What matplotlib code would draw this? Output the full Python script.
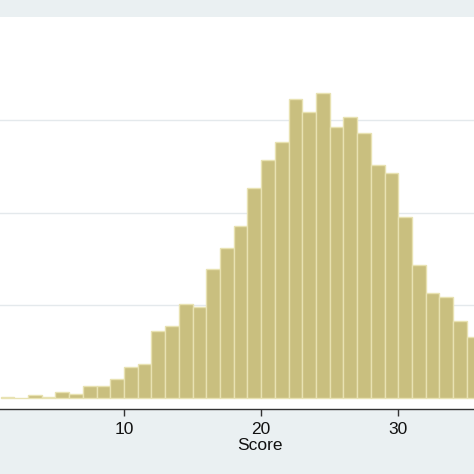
import numpy as np
import matplotlib
matplotlib.use("Agg")
import matplotlib.pyplot as plt

# histogram of scores, unit-width bins starting at each integer (density)
bin_left = list(range(1, 36))
density = [0.0002, 0.0, 0.00065, 0.0002, 0.0013, 0.001, 0.0026, 0.0026, 0.0041,
           0.0068, 0.0073, 0.0146, 0.0155, 0.0203, 0.0197, 0.0278, 0.0323,
           0.0372, 0.0453, 0.0513, 0.0552, 0.0645, 0.0617, 0.0659, 0.0585,
           0.0607, 0.0571, 0.0503, 0.0485, 0.0390, 0.0288, 0.0227, 0.0218,
           0.0167, 0.0133]
x_ticks = [10, 20, 30]
y_grid = [0.02, 0.04, 0.06]

plt.rcParams["font.family"] = ["Liberation Sans", "DejaVu Sans"]

fig = plt.figure(figsize=(4.74, 4.74), dpi=100)
fig.patch.set_facecolor("#eaf0f2")
ax = fig.add_axes([0, 65 / 474, 1, 392 / 474])
ax.set_facecolor("white")

ax.bar(bin_left, density, width=1.0, align="edge",
       color="#c9bf7f", edgecolor="#e8e2b2", linewidth=1.0, zorder=2)

for g in y_grid:
    ax.axhline(g, color="#e4e9ec", linewidth=1.0, zorder=1)

ax.set_xlim(0.96, 35.52)
ax.set_ylim(-0.00232, 0.0822)
ax.set_xticks(x_ticks)
ax.set_yticks([])
ax.tick_params(axis="x", direction="out", length=5, width=1, color="#333333",
               labelsize=12.5, pad=4, labelcolor="#111111")
for side in ["top", "left", "right"]:
    ax.spines[side].set_visible(False)
ax.spines["bottom"].set_color("#333333")
ax.spines["bottom"].set_linewidth(1.0)

# the plot region runs off the left edge, so the title sits right of centre
ax.set_xlabel("Score", fontsize=12.5, color="#111111")
ax.xaxis.set_label_coords(260 / 474, -36 / 392)
ax.xaxis.label.set_va("center")

fig.savefig("out.png", dpi=100, facecolor=fig.get_facecolor())
